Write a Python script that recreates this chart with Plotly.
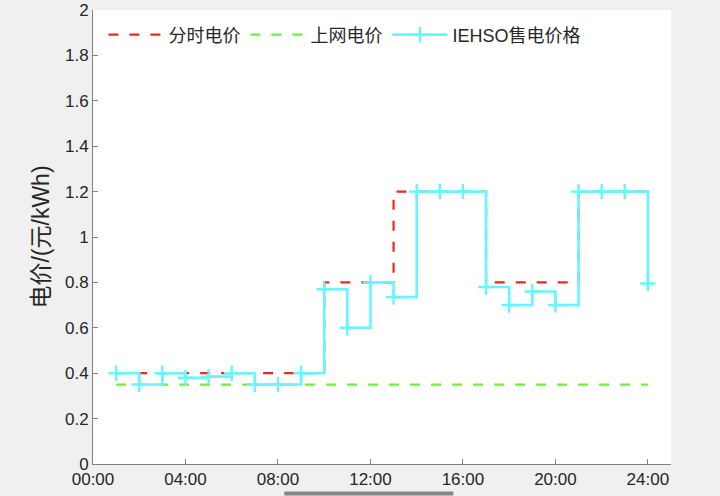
import plotly.graph_objects as go

# hourly prices, hours 1..24
hours = list(range(1, 25))
tou_price = [0.4] * 9 + [0.8] * 3 + [1.2] * 4 + [0.8] * 4 + [1.2] * 4
feed_in_price = [0.35] * 24
iehso_price = [0.4, 0.35, 0.4, 0.38, 0.385, 0.4, 0.35, 0.35, 0.4, 0.77,
               0.6, 0.8, 0.735, 1.2, 1.2, 1.2, 0.78, 0.7, 0.76, 0.7,
               1.2, 1.2, 1.2, 0.795]

tick_hours = [0, 4, 8, 12, 16, 20, 24]
tick_text = ['00:00', '04:00', '08:00', '12:00', '16:00', '20:00', '24:00']

font_family = 'Liberation Sans, Arial, Noto Sans CJK SC'

fig = go.Figure()
fig.add_trace(go.Scatter(x=hours, y=tou_price, name='分时电价', mode='lines',
                         line=dict(color='#ec2a1c', width=2.2, dash='10px,11px', shape='hv')))
fig.add_trace(go.Scatter(x=hours, y=feed_in_price, name='上网电价', mode='lines',
                         line=dict(color='#72ee3e', width=2.2, dash='10px,11px', shape='hv')))
fig.add_trace(go.Scatter(x=hours, y=iehso_price, name='IEHSO售电价格', mode='lines+markers',
                         line=dict(color='#66f6ff', width=2.6, shape='hv'),
                         marker=dict(symbol='cross-thin', size=11,
                                     line=dict(color='#66f6ff', width=2.4))))

fig.update_layout(
    width=720, height=496,
    margin=dict(l=92.5, r=48.5, t=9.5, b=31.5, autoexpand=False),
    paper_bgcolor='#f0f0f0', plot_bgcolor='white',
    font=dict(family=font_family, size=17, color='#262626'),
    legend=dict(orientation='h', x=0.018, y=0.945, yanchor='middle', xanchor='left',
                bgcolor='rgba(0,0,0,0)', font=dict(size=18), itemwidth=55,
                tracegroupgap=0),
    showlegend=True,
)
fig.update_xaxes(range=[0, 25], tickvals=tick_hours, ticktext=tick_text,
                 showgrid=False, zeroline=False, showline=True, linecolor='#808080',
                 linewidth=1, ticks='inside', ticklen=5, tickcolor='#808080',
                 tickfont=dict(size=17), automargin=False)
fig.update_yaxes(range=[0, 2], dtick=0.2, tickformat='~g',
                 showgrid=False, zeroline=False, showline=True, linecolor='#808080',
                 linewidth=1, ticks='inside', ticklen=5, tickcolor='#808080',
                 tickfont=dict(size=17), automargin=False,
                 title=dict(text='电价/(元/kWh)', font=dict(size=23), standoff=8))

# scrollbar strip at the bottom of the screenshot
fig.add_shape(type='rect', xref='paper', yref='paper', x0=0.331, x1=0.6235,
              y0=-0.0692, y1=-0.0604, fillcolor='#858585', line_width=0, layer='above')

fig.write_html("out.html", config={'displayModeBar': False},
               post_script="document.body.style.margin='0';")
